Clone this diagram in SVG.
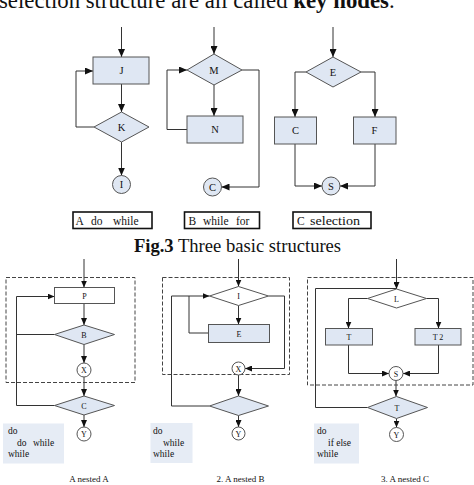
<svg xmlns="http://www.w3.org/2000/svg" width="474" height="485" viewBox="0 0 474 485">
<style>
.bg{fill:#ffffff}
.nd{fill:#dfe7f3;stroke:#555;stroke-width:1}
.wh{fill:#ffffff;stroke:#555;stroke-width:1}
.ln{fill:none;stroke:#333;stroke-width:1}
.dash{fill:none;stroke:#444;stroke-width:1;stroke-dasharray:4 2}
.lb{fill:#fff;stroke:#111;stroke-width:1.6}
.code{fill:#e6ecf5;stroke:none}
.t{font-family:"Liberation Serif","Times New Roman",serif;fill:#111}
.n1{font-size:10.5px;text-anchor:middle}
.n2{font-size:8px;text-anchor:middle}
.c{font-size:9.5px}
.lt{font-size:11.5px}
</style>
<defs>
<marker id="a" markerUnits="userSpaceOnUse" markerWidth="8" markerHeight="7" refX="8" refY="3.5" orient="auto"><path d="M0,0 L8,3.5 L0,7 z" fill="#111"/></marker>
<marker id="b" markerUnits="userSpaceOnUse" markerWidth="7" markerHeight="6" refX="7" refY="3" orient="auto"><path d="M0,0 L7,3 L0,6 z" fill="#111"/></marker>
</defs>
<rect class="bg" x="0" y="0" width="474" height="485"/>
<text class="t" x="-1" y="7.5" font-size="22.8">selection structure are all called <tspan font-weight="bold">key nodes</tspan>.</text>

<g id="connectors">
<path class="ln" d="M121.5,27 V57" marker-end="url(#a)"/>
<path class="ln" d="M121.5,84 V112" marker-end="url(#a)"/>
<path class="ln" d="M121.5,142 V175.5" marker-end="url(#a)"/>
<path class="ln" d="M94,127 H76 V71 H93" marker-end="url(#a)"/>
<path class="ln" d="M214,27 V54" marker-end="url(#a)"/>
<path class="ln" d="M214,85 V116" marker-end="url(#a)"/>
<path class="ln" d="M187,129.5 H167 V70 H187" marker-end="url(#a)"/>
<path class="ln" d="M242,70 H259 V187 H221.5" marker-end="url(#a)"/>
<path class="ln" d="M333,27 V57" marker-end="url(#a)"/>
<path class="ln" d="M306,72 H295 V117" marker-end="url(#a)"/>
<path class="ln" d="M361,72 H375 V117" marker-end="url(#a)"/>
<path class="ln" d="M295,144 V186 H322" marker-end="url(#a)"/>
<path class="ln" d="M375,144 V186 H340" marker-end="url(#a)"/>
<path class="ln" d="M84,259 V287.5" marker-end="url(#b)"/>
<path class="ln" d="M84,303.5 V325" marker-end="url(#b)"/>
<path class="ln" d="M84,344.5 V363" marker-end="url(#b)"/>
<path class="ln" d="M84,377 V396" marker-end="url(#b)"/>
<path class="ln" d="M84,415 V427" marker-end="url(#b)"/>
<path class="ln" d="M54.5,405.5 H16.5 V296.5 H54.5" marker-end="url(#b)"/>
<path class="ln" d="M54.5,334.5 H16.5"/>
<path class="ln" d="M238.5,259 V286.5" marker-end="url(#b)"/>
<path class="ln" d="M238.5,305.5 V324.5" marker-end="url(#b)"/>
<path class="ln" d="M208.5,333 H189 V296"/>
<path class="ln" d="M209.5,406 H171.5 V296 H209.5" marker-end="url(#b)"/>
<path class="ln" d="M268.5,296 H284.5 V368.5 H245" marker-end="url(#b)"/>
<path class="ln" d="M238.5,375 V396" marker-end="url(#b)"/>
<path class="ln" d="M238.5,415.5 V427" marker-end="url(#b)"/>
<path class="ln" d="M396.5,259 V289" marker-end="url(#b)"/>
<path class="ln" d="M367.5,298.5 H348.5 V328.5" marker-end="url(#b)"/>
<path class="ln" d="M426.5,298.5 H438.5 V328.5" marker-end="url(#b)"/>
<path class="ln" d="M348.5,345 V373.5 H389" marker-end="url(#b)"/>
<path class="ln" d="M438.5,345 V373.5 H403" marker-end="url(#b)"/>
<path class="ln" d="M396,380.5 V396.5" marker-end="url(#b)"/>
<path class="ln" d="M367.5,407.5 H315.5 V288.5 H396.5"/>
<path class="ln" d="M396.5,418.5 V427.5" marker-end="url(#b)"/>
</g>

<g id="nodeJ"><rect class="nd" x="93" y="57" width="56" height="27"/><text class="t n1" x="121.5" y="74">J</text></g>
<g id="nodeK"><polygon class="nd" points="94,127 121.5,112 149,127 121.5,142"/><text class="t n1" x="121.5" y="130.5">K</text></g>
<g id="nodeI"><circle class="nd" cx="121.5" cy="184.5" r="9"/><text class="t n1" x="121.5" y="188">I</text></g>

<g id="nodeM"><polygon class="nd" points="187,70 214,54 242,70 214,85"/><text class="t n1" x="214" y="73.5">M</text></g>
<g id="nodeN"><rect class="nd" x="187" y="116" width="56" height="27"/><text class="t n1" x="215" y="133">N</text></g>
<g id="nodeC1"><circle class="nd" cx="212.5" cy="187" r="9"/><text class="t n1" x="212.5" y="190.5">C</text></g>

<g id="nodeE"><polygon class="nd" points="306,72 333,57 361,72 333,87"/><text class="t n1" x="333" y="75.5">E</text></g>
<g id="nodeC2"><rect class="nd" x="274.5" y="117" width="42" height="27"/><text class="t n1" x="295.5" y="134">C</text></g>
<g id="nodeF"><rect class="nd" x="353.5" y="117" width="42.5" height="27"/><text class="t n1" x="374.5" y="134">F</text></g>
<g id="nodeS"><circle class="nd" cx="331" cy="186" r="9"/><text class="t n1" x="331" y="189.5">S</text></g>

<g id="label1"><rect class="lb" x="73" y="212" width="79" height="16.5"/><text class="t lt" x="75.5" y="224.5">A<tspan x="91">do</tspan><tspan x="113">while</tspan></text></g>
<g id="label2"><rect class="lb" x="184.5" y="212" width="75" height="16.5"/><text class="t lt" x="188.5" y="224.5">B<tspan x="203">while</tspan><tspan x="236">for</tspan></text></g>
<g id="label3"><rect class="lb" x="293" y="212" width="78" height="16.5"/><text class="t lt" x="297" y="224.5">C<tspan x="310" textLength="50" lengthAdjust="spacingAndGlyphs">selection</tspan></text></g>
<text class="t" x="237.5" y="252" font-size="18.6" text-anchor="middle"><tspan font-weight="bold">Fig.3</tspan> Three basic structures</text>

<g id="box1"><rect class="dash" x="6" y="277.5" width="129" height="105"/></g>
<g id="nodeP"><rect class="wh" x="54.5" y="287.5" width="60" height="16"/><text class="t n2" x="84.5" y="298.5">P</text></g>
<g id="nodeB"><polygon class="nd" points="54.5,334.5 84,325 114.5,334.5 84,344.5"/><text class="t n2" x="84" y="337.5">B</text></g>
<g id="nodeX1"><circle class="wh" cx="84" cy="370" r="7"/><text class="t n2" x="84" y="373">X</text></g>
<g id="nodeC3"><polygon class="nd" points="54.5,405.5 84,396 114.5,405.5 84,415"/><text class="t n2" x="84" y="408.5">C</text></g>
<g id="nodeY1"><circle class="wh" cx="84" cy="434" r="7"/><text class="t n2" x="84" y="437">Y</text></g>
<g id="code1"><rect class="code" x="3" y="423.5" width="61" height="40"/><text class="t c" x="8" y="434">do</text><text class="t c" x="17" y="446">do<tspan x="33">while</tspan></text><text class="t c" x="8" y="457">while</text></g>
<text class="t" x="89" y="482" font-size="9" text-anchor="middle">A nested A</text>

<g id="box2"><rect class="dash" x="162.5" y="277.5" width="127" height="97"/></g>
<g id="nodeI2"><polygon class="wh" points="209.5,296 238.5,286.5 268.5,296 238.5,305.5"/><text class="t n2" x="238.5" y="299">I</text></g>
<g id="nodeE2"><rect class="nd" x="208.5" y="324.5" width="61" height="18"/><text class="t n2" x="239" y="336.5">E</text></g>
<g id="nodeX2"><circle class="wh" cx="238.5" cy="368.5" r="6.5"/><text class="t n2" x="238.5" y="371.5">X</text></g>
<g id="nodeD2"><polygon class="nd" points="209.5,406 238.5,396 268.5,406 238.5,415.5"/></g>
<g id="nodeY2"><circle class="wh" cx="238.5" cy="433.5" r="6.5"/><text class="t n2" x="238.5" y="436.5">Y</text></g>
<g id="code2"><rect class="code" x="150.5" y="423" width="42" height="40"/><text class="t c" x="153" y="434">do</text><text class="t c" x="163" y="446">while</text><text class="t c" x="153" y="457">while</text></g>
<text class="t" x="240.5" y="482" font-size="9" text-anchor="middle">2. A nested B</text>

<g id="box3"><rect class="dash" x="307.5" y="277.5" width="165.5" height="107.5"/></g>
<g id="nodeL"><polygon class="wh" points="367.5,298.5 396.5,289 426.5,298.5 396.5,308"/><text class="t n2" x="396.5" y="301.5">L</text></g>
<g id="nodeT1"><rect class="nd" x="325.5" y="328.5" width="47" height="16.5"/><text class="t n2" x="349" y="339.5">T</text></g>
<g id="nodeT2"><rect class="nd" x="415" y="328.5" width="46" height="16.5"/><text class="t n2" x="438" y="339.5">T 2</text></g>
<g id="nodeS2"><circle class="wh" cx="396" cy="373.5" r="7"/><text class="t n2" x="396" y="376.5">S</text></g>
<g id="nodeT"><polygon class="nd" points="367.5,407.5 396.5,396.5 427.5,407.5 396.5,418.5"/><text class="t n2" x="397" y="410.5">T</text></g>
<g id="nodeY3"><circle class="wh" cx="396.5" cy="434.5" r="7"/><text class="t n2" x="396.5" y="437.5">Y</text></g>
<g id="code3"><rect class="code" x="314" y="423.5" width="45" height="40"/><text class="t c" x="317" y="434">do</text><text class="t c" x="328" y="446">if else</text><text class="t c" x="317" y="457">while</text></g>
<text class="t" x="405" y="482" font-size="9" text-anchor="middle">3. A nested C</text>
</svg>
